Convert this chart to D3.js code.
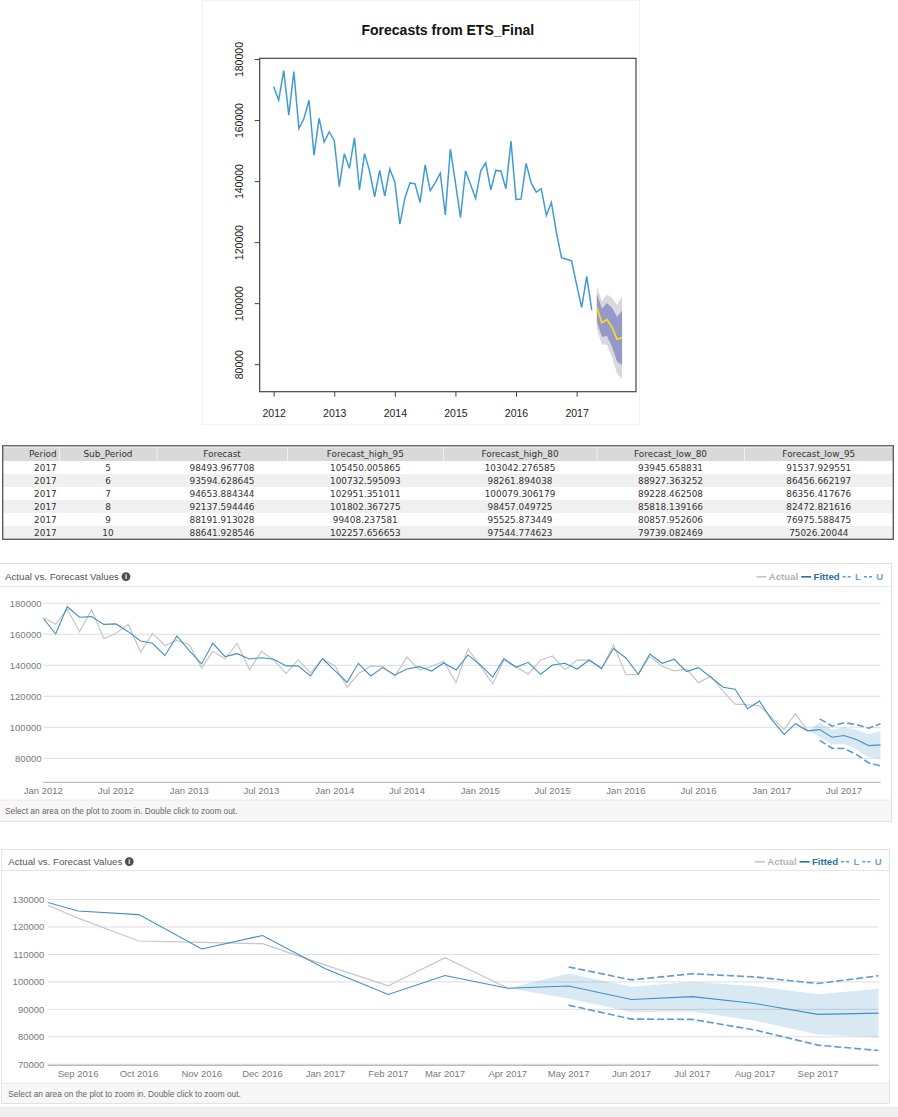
<!DOCTYPE html>
<html>
<head>
<meta charset="utf-8">
<script src="https://cdn.jsdelivr.net/npm/d3@7"></script>
<style>
  body { margin: 0; background: #fff; }
  svg { display: block; }
  text { font-family: "Liberation Sans", Arial, sans-serif; }
</style>
</head>
<body>
<svg id="chart" width="898" height="1117"></svg>
<script>
// monthly observations, Jan 2012 .. Apr 2017
const startYear = 2012;
const actualValues = [
  170900, 166500, 176200, 161600, 175900, 157200, 160500, 166500, 148500, 160600, 152800, 156100,
  153400, 138200, 149000, 144200, 154200, 137100, 149000, 143300, 134800, 143500, 135100, 144000,
  139700, 125900, 134500, 139400, 139100, 133000, 145300, 136900, 139400, 142600, 128900, 150500,
  139500, 128000, 143300, 138900, 134300, 143300, 146000, 137100, 143500, 143300, 137500, 153100,
  134000, 134100, 145800, 139400, 136400, 137500, 128800, 133000, 123200, 114900, 114400, 113900,
  106100, 98600, 108800, 97700
];
// fitted values of the model, same months
const fittedValues = [
  170300, 160200, 177800, 171000, 171400, 166400, 166700, 161700, 155700, 154200, 146200, 158900,
  149500, 140900, 154200, 145600, 147500, 144100, 144900, 143900, 139600, 139600, 133100, 144300,
  136600, 129000, 141300, 133100, 138500, 133800, 137600, 139100, 136300, 141500, 137000, 146700,
  140200, 132300, 144300, 138700, 141900, 134200, 140200, 141300, 137600, 143400, 138100, 150800,
  144700, 134200, 147300, 141300, 143900, 135900, 138500, 132300, 125800, 124500, 112000, 116900,
  104800, 95400, 102300, 97700
];

// forecast table
const forecastPeriod = [2017, 2017, 2017, 2017, 2017, 2017];
const forecastSubPeriod = [5, 6, 7, 8, 9, 10];
const forecastMean = [98493.967708, 93594.628645, 94653.884344, 92137.594446, 88191.913028, 88641.928546];
const forecastHigh95 = [105450.005865, 100732.595093, 102951.351011, 101802.367275, 99408.237581, 102257.656653];
const forecastHigh80 = [103042.276585, 98261.894038, 100079.306179, 98457.049725, 95525.873449, 97544.774623];
const forecastLow80 = [93945.658831, 88927.363252, 89228.462508, 85818.139166, 80857.952606, 79739.082469];
const forecastLow95 = [91537.929551, 86456.662197, 86356.417676, 82472.821616, 76975.588475, 75026.20044];
const tableHeaders = ["Period", "Sub_Period", "Forecast", "Forecast_high_95", "Forecast_high_80", "Forecast_low_80", "Forecast_low_95"];

// tick labels
const rYearTicks = [2012, 2013, 2014, 2015, 2016, 2017];
const rValueTicks = [80000, 100000, 120000, 140000, 160000, 180000];
const fullValueTicks = [80000, 100000, 120000, 140000, 160000, 180000];
const fullDateTicks = ["2012-01", "2012-07", "2013-01", "2013-07", "2014-01", "2014-07", "2015-01",
  "2015-07", "2016-01", "2016-07", "2017-01", "2017-07"];
const zoomValueTicks = [70000, 80000, 90000, 100000, 110000, 120000, 130000];
const zoomDateTicks = ["2016-09", "2016-10", "2016-11", "2016-12", "2017-01", "2017-02", "2017-03",
  "2017-04", "2017-05", "2017-06", "2017-07", "2017-08", "2017-09"];
const zoomWindow = ["2016-08-17", "2017-10-01"];

const svg = d3.select("#chart");
const parseMonth = d3.timeParse("%Y-%m");
const parseDay = d3.timeParse("%Y-%m-%d");

// ---------- top : R style forecast plot ----------
const obs = actualValues.map((v, i) => ({ t: startYear + i / 12, v: v }));
const fc = forecastMean.map((v, i) => ({
  t: forecastPeriod[i] + (forecastSubPeriod[i] - 1) / 12,
  mean: v, lo80: forecastLow80[i], hi80: forecastHigh80[i], lo95: forecastLow95[i], hi95: forecastHigh95[i]
}));

const box = { left: 259.7, right: 636, top: 58.3, bottom: 391.7 };
const tExt = [obs[0].t, fc[fc.length - 1].t];
const tPad = (tExt[1] - tExt[0]) * 0.04;
const vMin = d3.min([d3.min(actualValues), d3.min(forecastLow95)]);
const vMax = d3.max([d3.max(actualValues), d3.max(forecastHigh95)]);
const vPad = (vMax - vMin) * 0.04;

const rx = d3.scaleLinear().domain([tExt[0] - tPad, tExt[1] + tPad]).range([box.left, box.right]);
const ry = d3.scaleLinear().domain([vMin - vPad, vMax + vPad]).range([box.bottom, box.top]);

const topG = svg.append("g");
topG.append("rect").attr("x", 202.5).attr("y", 0.5).attr("width", 437).attr("height", 424)
  .attr("fill", "none").attr("stroke", "#f2f2f2");

topG.append("text").attr("x", (box.left + box.right) / 2).attr("y", 35)
  .attr("text-anchor", "middle").attr("font-size", 14).attr("font-weight", "bold")
  .attr("fill", "#111").text("Forecasts from ETS_Final");

topG.append("path").datum(fc)
  .attr("fill", "#d8d8df")
  .attr("d", d3.area().x(d => rx(d.t)).y0(d => ry(d.lo95)).y1(d => ry(d.hi95)));
topG.append("path").datum(fc)
  .attr("fill", "#9698c9")
  .attr("d", d3.area().x(d => rx(d.t)).y0(d => ry(d.lo80)).y1(d => ry(d.hi80)));

topG.append("path").datum(obs)
  .attr("fill", "none").attr("stroke", "#409cd0").attr("stroke-width", 1.5)
  .attr("d", d3.line().x(d => rx(d.t)).y(d => ry(d.v)));
topG.append("path").datum(fc)
  .attr("fill", "none").attr("stroke", "#ecdf28").attr("stroke-width", 1.8)
  .attr("d", d3.line().x(d => rx(d.t)).y(d => ry(d.mean)));

const rxAxis = topG.append("g").attr("transform", `translate(0,${box.bottom})`)
  .call(d3.axisBottom(rx).tickValues(rYearTicks).tickFormat(d3.format("d")).tickSize(5).tickPadding(13));
const ryAxis = topG.append("g").attr("transform", `translate(${box.left},0)`)
  .call(d3.axisLeft(ry).tickValues(rValueTicks).tickFormat(d3.format("d")).tickSize(5));
[rxAxis, ryAxis].forEach(a => {
  a.select(".domain").remove();
  a.selectAll("line").attr("stroke", "#444");
  a.selectAll("text").attr("font-size", 10.5).attr("fill", "#222")
    .style("font-family", '"Liberation Sans", Arial, sans-serif');
});
ryAxis.selectAll("text")
  .attr("x", 0).attr("y", -20.4).attr("dy", "0.35em")
  .attr("text-anchor", "middle").attr("transform", "rotate(-90)");

topG.append("rect").attr("x", box.left).attr("y", box.top)
  .attr("width", box.right - box.left).attr("height", box.bottom - box.top)
  .attr("fill", "none").attr("stroke", "#444").attr("stroke-width", 1.2);

// ---------- forecast table ----------
const colEdges = [2.7, 59.3, 156.7, 287.3, 443.3, 596.7, 744.3, 893.3];
const rows = forecastMean.map((v, i) => [forecastPeriod[i], forecastSubPeriod[i], v,
  forecastHigh95[i], forecastHigh80[i], forecastLow80[i], forecastLow95[i]].map(String));
const tbl = svg.append("g").attr("font-size", 8.9);
const headTop = 447.5, headH = 13.5, rowH = 13;

tbl.selectAll("rect.head").data(tableHeaders).join("rect")
  .attr("class", "head")
  .attr("x", (d, i) => colEdges[i] + (i ? 0.6 : 0))
  .attr("y", headTop)
  .attr("width", (d, i) => colEdges[i + 1] - colEdges[i] - (i ? 0.6 : 0))
  .attr("height", headH)
  .attr("fill", "#d9d9d9");

tbl.selectAll("rect.stripe").data(rows).join("rect")
  .attr("class", "stripe")
  .attr("x", colEdges[0]).attr("width", colEdges[7] - colEdges[0])
  .attr("y", (d, i) => headTop + headH + i * rowH).attr("height", rowH)
  .attr("fill", (d, i) => i % 2 ? "#f0f0f0" : "#fff");

function cellX(i) { return i === 0 ? colEdges[1] - 2.6 : (colEdges[i] + colEdges[i + 1]) / 2; }
function cellAnchor(i) { return i === 0 ? "end" : "middle"; }

tbl.selectAll("text.head").data(tableHeaders).join("text")
  .attr("class", "head")
  .attr("x", (d, i) => cellX(i)).attr("y", headTop + headH / 2).attr("dy", "0.36em")
  .attr("text-anchor", (d, i) => cellAnchor(i))
  .style("font-family", '"DejaVu Sans", Verdana, sans-serif')
  .attr("fill", "#333").text(d => d);

rows.forEach((row, r) => {
  tbl.selectAll(null).data(row).join("text")
    .attr("x", (d, i) => cellX(i))
    .attr("y", headTop + headH + r * rowH + rowH / 2).attr("dy", "0.36em")
    .attr("text-anchor", (d, i) => cellAnchor(i))
    .style("font-family", '"DejaVu Sans", Verdana, sans-serif')
    .attr("fill", "#333").text(d => d);
});

tbl.append("rect").attr("x", colEdges[0]).attr("y", 445.8)
  .attr("width", colEdges[7] - colEdges[0]).attr("height", 539.3 - 445.8)
  .attr("fill", "none").attr("stroke", "#555").attr("stroke-width", 1.3);

// ---------- dygraph style panels ----------
const actualColor = "#c6c6c6";
const fittedColor = "#4190c6";
const boundColor = "#5b9bd5";

const obsDates = actualValues.map((v, i) => new Date(startYear, i, 1));
const fcDates = forecastSubPeriod.map((m, i) => new Date(forecastPeriod[i], m - 1, 1));
const actualSeries = actualValues.map((v, i) => ({ d: obsDates[i], v: v }));
const fittedSeries = fittedValues.map((v, i) => ({ d: obsDates[i], v: v }))
  .concat(forecastMean.map((v, i) => ({ d: fcDates[i], v: v })));
const last = fittedValues.length - 1;
const bandSeries = [{ d: obsDates[last], lo: fittedValues[last], hi: fittedValues[last] }]
  .concat(forecastMean.map((v, i) => ({ d: fcDates[i], lo: forecastLow80[i], hi: forecastHigh80[i] })));
const lowerSeries = forecastLow95.map((v, i) => ({ d: fcDates[i], v: v }));
const upperSeries = forecastHigh95.map((v, i) => ({ d: fcDates[i], v: v }));

const fmtMonth = d3.timeFormat("%b %Y");

function drawPanel(cfg) {
  const g = svg.append("g");
  const c = cfg.card;
  g.append("rect").attr("x", c.x0).attr("y", c.y0).attr("width", c.x1 - c.x0).attr("height", c.y1 - c.y0)
    .attr("fill", "#fff").attr("stroke", "#e2e2e2");
  g.append("rect").attr("x", c.x0 + 0.5).attr("y", c.foot).attr("width", c.x1 - c.x0 - 1).attr("height", c.y1 - c.foot - 0.5)
    .attr("fill", "#f7f7f7");
  g.append("line").attr("x1", c.x0).attr("x2", c.x1).attr("y1", c.foot).attr("y2", c.foot).attr("stroke", "#e8e8e8");
  g.append("line").attr("x1", c.x0).attr("x2", c.x1).attr("y1", c.sep).attr("y2", c.sep).attr("stroke", "#e6e6e6");

  const head = g.append("text").attr("x", c.textX).attr("y", c.headY)
    .attr("font-size", 9.7).attr("fill", "#555").text("Actual vs. Forecast Values");
  const ix = c.textX + head.node().getComputedTextLength() + 7;
  g.append("circle").attr("cx", ix).attr("cy", c.headY - 3.4).attr("r", 4.4).attr("fill", "#4d4d4d");
  g.append("text").attr("x", ix).attr("y", c.headY - 0.6).attr("text-anchor", "middle")
    .attr("font-size", 7).attr("font-weight", "bold").attr("fill", "#fff").text("i");

  g.append("text").attr("x", c.textX).attr("y", c.footY).attr("font-size", 8.3).attr("fill", "#666")
    .text("Select an area on the plot to zoom in. Double click to zoom out.");

  // legend, right aligned
  const lg = g.append("g").attr("font-size", 9.6).attr("font-weight", "bold");
  const items = [
    { label: "Actual", color: actualColor, text: "#b3b3b3", dash: null },
    { label: "Fitted", color: "#2c6ea8", text: "#2c6ea8", dash: null },
    { label: "L", color: boundColor, text: "#6fa5da", dash: "3,2" },
    { label: "U", color: boundColor, text: "#6fa5da", dash: "3,2" }
  ];
  let lx = 0;
  items.forEach(it => {
    lg.append("line").attr("x1", lx).attr("x2", lx + 10).attr("y1", -3.2).attr("y2", -3.2)
      .attr("stroke", it.color).attr("stroke-width", 1.6).attr("stroke-dasharray", it.dash);
    lx += 12.4;
    const t = lg.append("text").attr("x", lx).attr("y", 0).attr("fill", it.text).text(it.label);
    lx += t.node().getComputedTextLength() + 3;
  });
  lg.attr("transform", `translate(${c.legendRight - (lx - 3)},${c.headY})`);

  // plot
  const x = d3.scaleTime().domain(cfg.xDomain).range([cfg.left, cfg.right]);
  const y = d3.scaleLinear().domain(cfg.yDomain).range(cfg.yRange);

  g.selectAll("line.grid").data(cfg.yTicks).join("line").attr("class", "grid")
    .attr("x1", cfg.left).attr("x2", cfg.right).attr("y1", d => y(d)).attr("y2", d => y(d))
    .attr("stroke", "#dedede").attr("stroke-width", 1);
  g.selectAll("text.ylab").data(cfg.yTicks).join("text").attr("class", "ylab")
    .attr("x", cfg.left - cfg.labelGap).attr("y", d => y(d)).attr("dy", "0.35em")
    .attr("text-anchor", "end").attr("font-size", 9.5).attr("fill", "#7a7a7a").text(d => d);
  g.selectAll("text.xlab").data(cfg.xTicks).join("text").attr("class", "xlab")
    .attr("x", d => x(d)).attr("y", cfg.xLabelY).attr("text-anchor", "middle")
    .attr("font-size", 9.5).attr("fill", "#7a7a7a").text(d => fmtMonth(d));
  g.append("line").attr("x1", cfg.left).attr("x2", cfg.right)
    .attr("y1", cfg.axisY).attr("y2", cfg.axisY).attr("stroke", "#aaa");

  const clipId = "clip" + cfg.id;
  svg.append("clipPath").attr("id", clipId).append("rect")
    .attr("x", cfg.left).attr("y", cfg.clipTop).attr("width", cfg.right - cfg.left).attr("height", cfg.axisY - cfg.clipTop);
  const p = g.append("g").attr("clip-path", `url(#${clipId})`);
  const line = d3.line().x(d => x(d.d)).y(d => y(d.v));

  p.append("path").datum(actualSeries).attr("fill", "none")
    .attr("stroke", actualColor).attr("stroke-width", 1.2).attr("d", line);
  p.append("path").datum(bandSeries).attr("fill", fittedColor).attr("fill-opacity", 0.2)
    .attr("d", d3.area().x(d => x(d.d)).y0(d => y(d.lo)).y1(d => y(d.hi)));
  p.append("path").datum(fittedSeries).attr("fill", "none")
    .attr("stroke", fittedColor).attr("stroke-width", 1.1).attr("d", line);
  [lowerSeries, upperSeries].forEach(s => {
    p.append("path").datum(s).attr("fill", "none").attr("stroke", boundColor)
      .attr("stroke-width", 1.6).attr("stroke-dasharray", "7,3").attr("d", line);
  });
}

drawPanel({
  id: "full",
  card: { x0: -1, x1: 891.5, y0: 563.5, y1: 821.5, foot: 800, sep: 586.5, textX: 5, headY: 580, footY: 813.5, legendRight: 883.3 },
  xDomain: [obsDates[0], fcDates[fcDates.length - 1]],
  left: 43.3, right: 880.7,
  yDomain: [64500, 180000], yRange: [782.3, 603.3],
  yTicks: fullValueTicks, xTicks: fullDateTicks.map(parseMonth),
  labelGap: 1.8, xLabelY: 793.5, axisY: 782.3, clipTop: 588
});

drawPanel({
  id: "zoom",
  card: { x0: 1.7, x1: 889.3, y0: 849.5, y1: 1103.5, foot: 1083.5, sep: 870.5, textX: 8.3, headY: 865, footY: 1097, legendRight: 881.7 },
  xDomain: zoomWindow.map(parseDay),
  left: 47.7, right: 878.7,
  yDomain: [70000, 130000], yRange: [1064.3, 899.5],
  yTicks: zoomValueTicks, xTicks: zoomDateTicks.map(parseMonth),
  labelGap: 3.4, xLabelY: 1076.8, axisY: 1065.3, clipTop: 872
});

svg.append("rect").attr("x", 0).attr("y", 1106.5).attr("width", 898).attr("height", 10.5).attr("fill", "#efefef");
</script>
</body>
</html>
